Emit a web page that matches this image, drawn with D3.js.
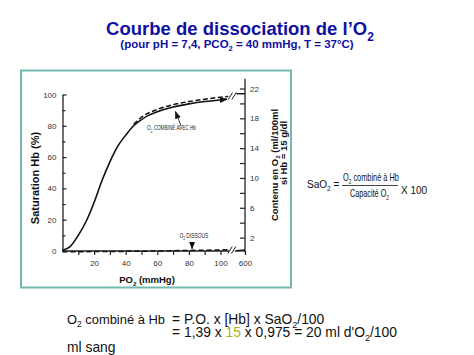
<!DOCTYPE html>
<html>
<head>
<meta charset="utf-8">
<script src="https://cdn.jsdelivr.net/npm/d3@7"></script>
<style>
  html, body { margin: 0; padding: 0; background: white; }
  svg { display: block; }
</style>
</head>
<body>
<script>
// Saturation curve (O2 combined with Hb), PO2 in mmHg, saturation in %
const po2Combine = [0, 5, 10, 15, 20, 25, 30, 35, 40, 45, 50, 55, 60, 70, 80, 90, 100, 104];
const satCombine = [0.5, 3, 10, 19, 31, 45, 57, 67, 74, 80, 84, 87, 89, 92, 94, 95.5, 96.5, 97];
// total content (dashed), only visible where it leaves the solid curve
const po2Total = [45, 50, 60, 70, 80, 90, 100, 105];
const satTotal = [81, 85.5, 90.5, 93.5, 95.5, 97, 98.3, 98.8];
// dissolved O2, ml/100ml (right axis)
const po2Dissous = [0, 20, 40, 60, 80, 100, 105];
const mlDissous = [0.1, 0.12, 0.15, 0.2, 0.28, 0.35, 0.38];
// after the axis break (up to 600 mmHg)
const po2After = [110, 600];
const satAfter = [100.5, 100.5];
const mlAfter = [0.25, 0.35];

const xTickLabels = [20, 40, 60, 80, 100, 600];
const xMinorTicks = [10, 20, 30, 40, 50, 60, 70, 80, 90, 100];
const yLeftLabels = [0, 20, 40, 60, 80, 100];
const yLeftMinor = [10, 30, 50, 70, 90];
const yRightLabels = [2, 6, 10, 14, 18, 22];
const yRightMinor = [4, 8, 12, 16, 20];

const width = 474, height = 355;
const blue = "#1010a0";
const teal = "#74b8ae";
const sans = "Liberation Sans, Arial, sans-serif";

const svg = d3.select("body").append("svg")
    .attr("width", width)
    .attr("height", height)
    .style("background", "white");

// scales: linear up to the break, then squeezed to 600 at the right axis
const x = d3.scaleLinear().domain([0, 110, 600]).range([62.5, 236.3, 245]);
const yL = d3.scaleLinear().domain([0, 100]).range([251, 94.5]);
const yR = d3.scaleLinear().domain([0, 22]).range([252.5, 88.5]);

// fill a text with parts, [text, isSubscript, colour]
function fillParts(t, parts, size) {
  t.selectAll("tspan").remove();
  t.attr("font-size", size);
  let sub = false;
  parts.forEach(([s, isSub, col]) => {
    const ts = t.append("tspan").text(s);
    if (isSub) ts.attr("font-size", size * 0.65);
    if (isSub && !sub) ts.attr("dy", size * 0.3);
    if (!isSub && sub) ts.attr("dy", -size * 0.3);
    if (col) ts.attr("fill", col);
    sub = isSub;
  });
}

// text whose font size is picked so that it is `fit` pixels wide
function richText(parent, parts, size, fit) {
  const t = parent.append("text").attr("font-family", sans).attr("fill", "#111");
  fillParts(t, parts, size);
  if (fit) {
    const w = t.node().getComputedTextLength();
    fillParts(t, parts, size * fit / w);
  }
  return t;
}

// narrow text: keeps the font height, squeezed horizontally to `fit` pixels
function narrowText(parent, parts, size, px, py, fit) {
  const g = parent.append("g");
  const t = richText(g, parts, size);
  const w = t.node().getComputedTextLength();
  g.attr("transform", `translate(${px},${py}) scale(${Math.min(1, fit / w)},1)`);
  return t;
}

// ---- title
richText(svg, [["Courbe de dissociation de l\u2019O", false], ["2", true]], 18.5)
    .attr("x", 240).attr("y", 35)
    .attr("text-anchor", "middle")
    .attr("font-weight", "bold")
    .attr("fill", blue);

richText(svg, [["(pour pH = 7,4, PCO", false], ["2", true], [" = 40 mmHg, T = 37\u00b0C)", false]], 11.5)
    .attr("x", 237).attr("y", 47.5)
    .attr("text-anchor", "middle")
    .attr("font-weight", "bold")
    .attr("fill", blue);

// ---- frame around the figure
svg.append("rect")
    .attr("x", 21).attr("y", 70.5)
    .attr("width", 270).attr("height", 217)
    .attr("fill", "none")
    .attr("stroke", teal)
    .attr("stroke-width", 2);

const plot = svg.append("g");

// left axis
plot.append("g")
    .attr("transform", `translate(${x(0)},0)`)
    .call(d3.axisLeft(yL).tickValues(yLeftLabels).tickSize(-4).tickSizeOuter(0).tickPadding(6));
plot.append("g")
    .attr("transform", `translate(${x(0)},0)`)
    .call(d3.axisLeft(yL).tickValues(yLeftMinor).tickSize(-3).tickFormat(""))
    .call(g => g.select(".domain").remove());

// right axis
const rightAxis = plot.append("g")
    .attr("transform", `translate(${x(600)},0)`)
    .call(d3.axisRight(yR).tickValues(yRightLabels).tickSize(-5).tickSizeOuter(0).tickPadding(5));
rightAxis.select(".domain").attr("d", `M0,${yR(0)}V${yR(23.3)}`);
plot.append("g")
    .attr("transform", `translate(${x(600)},0)`)
    .call(d3.axisRight(yR).tickValues(yRightMinor).tickSize(-5).tickFormat(""))
    .call(g => g.select(".domain").remove());

// bottom axis
const bottomAxis = plot.append("g")
    .attr("transform", `translate(0,${yL(0)})`)
    .call(d3.axisBottom(x).tickValues(xMinorTicks.concat([600])).tickSize(4).tickPadding(5)
      .tickFormat(d => xTickLabels.includes(d) ? d : ""));
bottomAxis.select(".domain").remove();
plot.append("line")
    .attr("x1", x(0)).attr("x2", x(105.5))
    .attr("y1", yL(0)).attr("y2", yL(0));
plot.append("line")
    .attr("x1", x(109)).attr("x2", x(600))
    .attr("y1", yL(0)).attr("y2", yL(0));

plot.selectAll(".domain, line").attr("stroke", "#222").attr("stroke-width", 1.3);
plot.selectAll(".tick line").attr("stroke-width", 1.2);
plot.selectAll(".tick text")
    .attr("font-family", sans)
    .attr("font-size", 8)
    .attr("fill", "#333");

// axis break marks "//"
function breakMark(cx, cy) {
  [-1.8, 1.8].forEach(dx => {
    plot.append("line")
        .attr("x1", cx + dx - 2.2).attr("y1", cy + 3.5)
        .attr("x2", cx + dx + 2.2).attr("y2", cy - 3.5)
        .attr("stroke", "#222").attr("stroke-width", 1);
  });
}
breakMark(x(107.2), yL(0) - 1);
breakMark(x(107.4), yL(99));

// ---- curves
svg.append("defs").append("marker")
    .attr("id", "arrow")
    .attr("viewBox", "0 0 8 6")
    .attr("refX", 7).attr("refY", 3)
    .attr("markerWidth", 8).attr("markerHeight", 6)
    .attr("markerUnits", "userSpaceOnUse")
    .attr("orient", "auto")
  .append("path")
    .attr("d", "M0,0L8,3L0,6Z")
    .attr("fill", "#111");

const lineL = d3.line().x(d => x(d[0])).y(d => yL(d[1])).curve(d3.curveMonotoneX);
const lineR = d3.line().x(d => x(d[0])).y(d => yR(d[1])).curve(d3.curveMonotoneX);

plot.append("path")
    .attr("d", lineL(d3.zip(po2Total, satTotal)))
    .attr("fill", "none").attr("stroke", "#111")
    .attr("stroke-width", 1.5).attr("stroke-dasharray", "5,2.5");

plot.append("path")
    .attr("d", lineL(d3.zip(po2Combine, satCombine)))
    .attr("fill", "none").attr("stroke", "#111")
    .attr("stroke-width", 1.6)
    .attr("marker-end", "url(#arrow)");

plot.append("path")
    .attr("d", lineL(d3.zip(po2After, satAfter)))
    .attr("fill", "none").attr("stroke", "#111").attr("stroke-width", 1.4);

plot.append("path")
    .attr("d", lineR(d3.zip(po2Dissous, mlDissous)))
    .attr("fill", "none").attr("stroke", "#111")
    .attr("stroke-width", 1.5).attr("stroke-dasharray", "5,3");

plot.append("path")
    .attr("d", lineR(d3.zip(po2After, mlAfter)))
    .attr("fill", "none").attr("stroke", "#111").attr("stroke-width", 1.3);

// ---- annotations
narrowText(plot, [["O", false], ["2", true], [" COMBIN\u00c9 AVEC Hb", false]], 7,
    x(53.5), yL(77), 49).attr("fill", "#222");
plot.append("line")
    .attr("x1", x(75)).attr("y1", yL(80))
    .attr("x2", x(71.5)).attr("y2", yL(89))
    .attr("stroke", "#222").attr("stroke-width", 0.9)
    .attr("marker-end", "url(#arrow)");

narrowText(plot, [["O", false], ["2", true], [" DISSOUS", false]], 7,
    x(74), yL(8.5), 29).attr("fill", "#222");
plot.append("line")
    .attr("x1", x(82)).attr("y1", yL(5.5))
    .attr("x2", x(82)).attr("y2", yL(1.5))
    .attr("stroke", "#222").attr("stroke-width", 0.9)
    .attr("marker-end", "url(#arrow)");

// ---- axis titles
richText(svg, [["PO", false], ["2", true], [" (mmHg)", false]], 9.5)
    .attr("x", 147).attr("y", 283)
    .attr("text-anchor", "middle")
    .attr("font-weight", "bold");

richText(svg, [["Saturation Hb (%)", false]], 11)
    .attr("transform", "translate(38.5,178) rotate(-90)")
    .attr("text-anchor", "middle")
    .attr("font-weight", "bold");

richText(svg, [["Contenu en O", false], ["2", true], [" (ml/100ml", false]], 9.5)
    .attr("transform", "translate(277.5,165) rotate(-90)")
    .attr("text-anchor", "middle")
    .attr("font-weight", "bold");
richText(svg, [["si Hb = 15 g/dl", false]], 9.5)
    .attr("transform", "translate(287,153) rotate(-90)")
    .attr("text-anchor", "middle")
    .attr("font-weight", "bold");

// ---- SaO2 formula
richText(svg, [["SaO", false], ["2", true], [" =", false]], 10)
    .attr("x", 307).attr("y", 188);
narrowText(svg, [["O", false], ["2", true], [" combin\u00e9 \u00e0 Hb", false]], 10, 343, 181, 56);
svg.append("line")
    .attr("x1", 342).attr("x2", 398)
    .attr("y1", 185.5).attr("y2", 185.5)
    .attr("stroke", "#111").attr("stroke-width", 0.8);
narrowText(svg, [["Capacit\u00e9 O", false], ["2", true]], 10, 350, 196.5, 39);
richText(svg, [["X 100", false]], 10)
    .attr("x", 401).attr("y", 194);

// ---- bottom text
richText(svg, [["O", false], ["2", true], [" combin\u00e9 \u00e0 Hb", false]], 14, 98)
    .attr("x", 67).attr("y", 323.5);
const b3 = richText(svg, [["= 1,39 x ", false], ["15", false, "#a9b321"], [" x 0,975 = 20 ml d'O", false],
    ["2", true], ["/100", false]], 14, 225)
    .attr("x", 172).attr("y", 337);
const bs = +b3.attr("font-size");
richText(svg, [["= P.O. x [Hb] x SaO", false], ["2", true], ["/100", false]], bs)
    .attr("x", 172).attr("y", 323.5);
richText(svg, [["ml sang", false]], bs)
    .attr("x", 67).attr("y", 351.5);
</script>
</body>
</html>
